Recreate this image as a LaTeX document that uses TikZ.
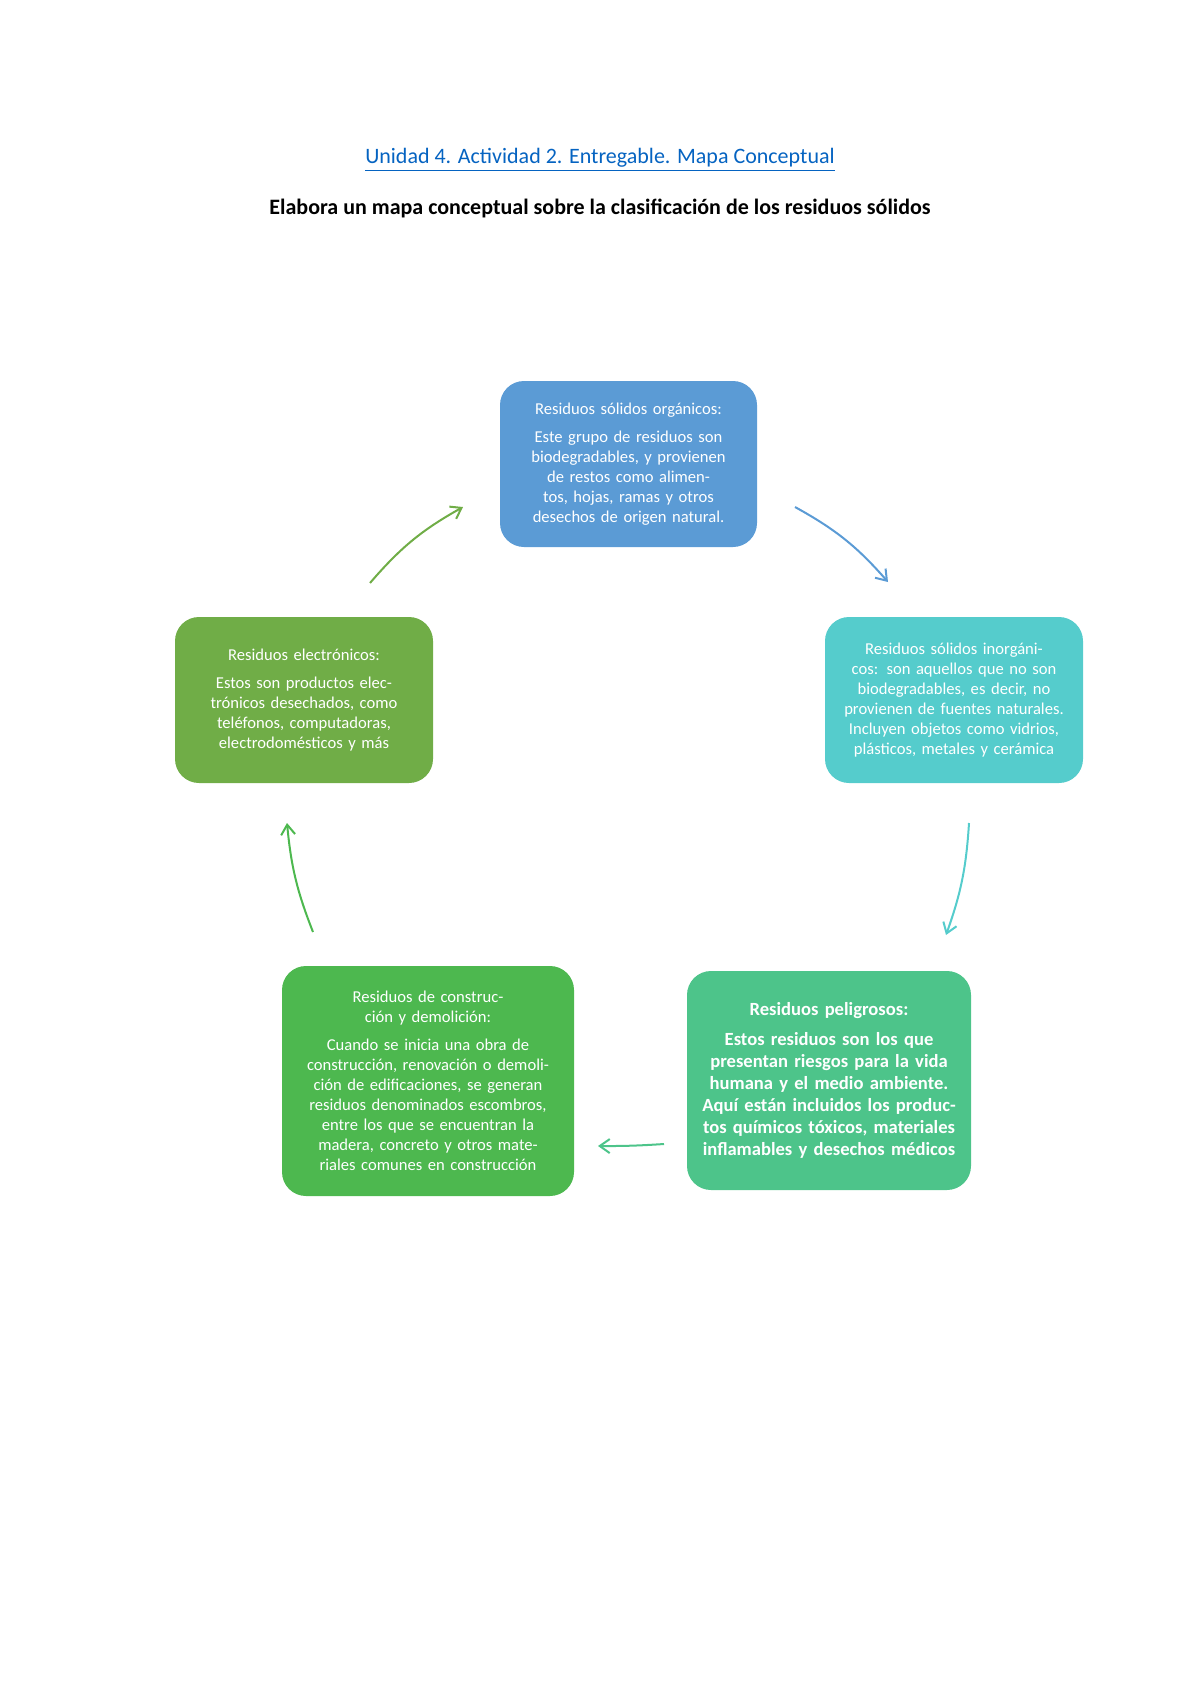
\documentclass[tikz,border=0pt]{standalone}
\usepackage{fontspec}
\setmainfont{Carlito}
\usetikzlibrary{arrows.meta}
\definecolor{tblue}{HTML}{0563C1}
\definecolor{cblue}{HTML}{5B9BD5}
\definecolor{cteal}{HTML}{55CCCC}
\definecolor{cgreen}{HTML}{70AD47}
\definecolor{cgreen2}{HTML}{4DB84F}
\definecolor{cgreen3}{HTML}{4DC48A}
\tikzset{
 card/.style={rounded corners=12pt,inner sep=3pt,text=white,align=center,font=\fontsize{8.3}{10}\selectfont},
 arr/.style={-{Straight Barb[length=5pt,width=7pt]},line width=1pt}
}
\begin{document}
\begin{tikzpicture}[x=0.5pt,y=-0.5pt]
\useasboundingbox (0,0) rectangle (1200,1696);
\node[font=\fontsize{11}{13}\selectfont,text=tblue] (t) at (600,160) {\underline{Unidad 4. Actividad 2. Entregable. Mapa Conceptual}};
\node[font=\fontsize{11}{13}\selectfont\bfseries] (s) at (600,208) {Elabora un mapa conceptual sobre la clasificación de los residuos sólidos};
\node[card,fill=cblue,minimum width=128.5pt,minimum height=83pt,text width=120pt] (org) at (628.5,464) {Residuos sólidos orgánicos:\\[4pt]Este grupo de residuos son biodegradables, y provienen de restos como alimentos, hojas, ramas y otros desechos de origen natural.};
\node[card,fill=cteal,minimum width=129pt,minimum height=83pt,text width=122pt] (ino) at (954,700) {Residuos sólidos inorgánicos: son aquellos que no son biodegradables, es decir, no provienen de fuentes naturales. Incluyen objetos como vidrios, plásticos, metales y cerámica};
\node[card,fill=cgreen,minimum width=129pt,minimum height=83pt,text width=122pt] (ele) at (304,700) {Residuos electrónicos:\\[4pt]Estos son productos electrónicos desechados, como teléfonos, computadoras, electrodomésticos y más};
\node[card,fill=cgreen2,minimum width=146pt,minimum height=115pt,text width=132pt] (con) at (428,1081) {Residuos de construcción y demolición:\\[4pt]Cuando se inicia una obra de construcción, renovación o demolición de edificaciones, se generan residuos denominados escombros, entre los que se encuentran la madera, concreto y otros materiales comunes en construcción};
\node[card,fill=cgreen3,minimum width=142pt,minimum height=109.5pt,text width=132pt,font=\fontsize{9.3}{11}\selectfont\bfseries] (pel) at (829,1080.5) {Residuos peligrosos:\\[4pt]Estos residuos son los que presentan riesgos para la vida humana y el medio ambiente. Aquí están incluidos los productos químicos tóxicos, materiales inflamables y desechos médicos};
\coordinate (a1) at (795,507); \coordinate (b1) at (888,582);
\coordinate (a2) at (969,823); \coordinate (b2) at (946,935);
\coordinate (a3) at (664,1144); \coordinate (b3) at (598,1146);
\coordinate (a4) at (313,932); \coordinate (b4) at (287,823);
\coordinate (a5) at (370,583); \coordinate (b5) at (463,507);
\draw[arr,draw=cblue] (a1) to[bend left=10] (b1);
\draw[arr,draw=cteal] (a2) to[bend left=8] (b2);
\draw[arr,draw=cgreen3] (a3) to[bend left=2] (b3);
\draw[arr,draw=cgreen2] (a4) to[bend left=8] (b4);
\draw[arr,draw=cgreen] (a5) to[bend left=10] (b5);
\end{tikzpicture}
\end{document}
